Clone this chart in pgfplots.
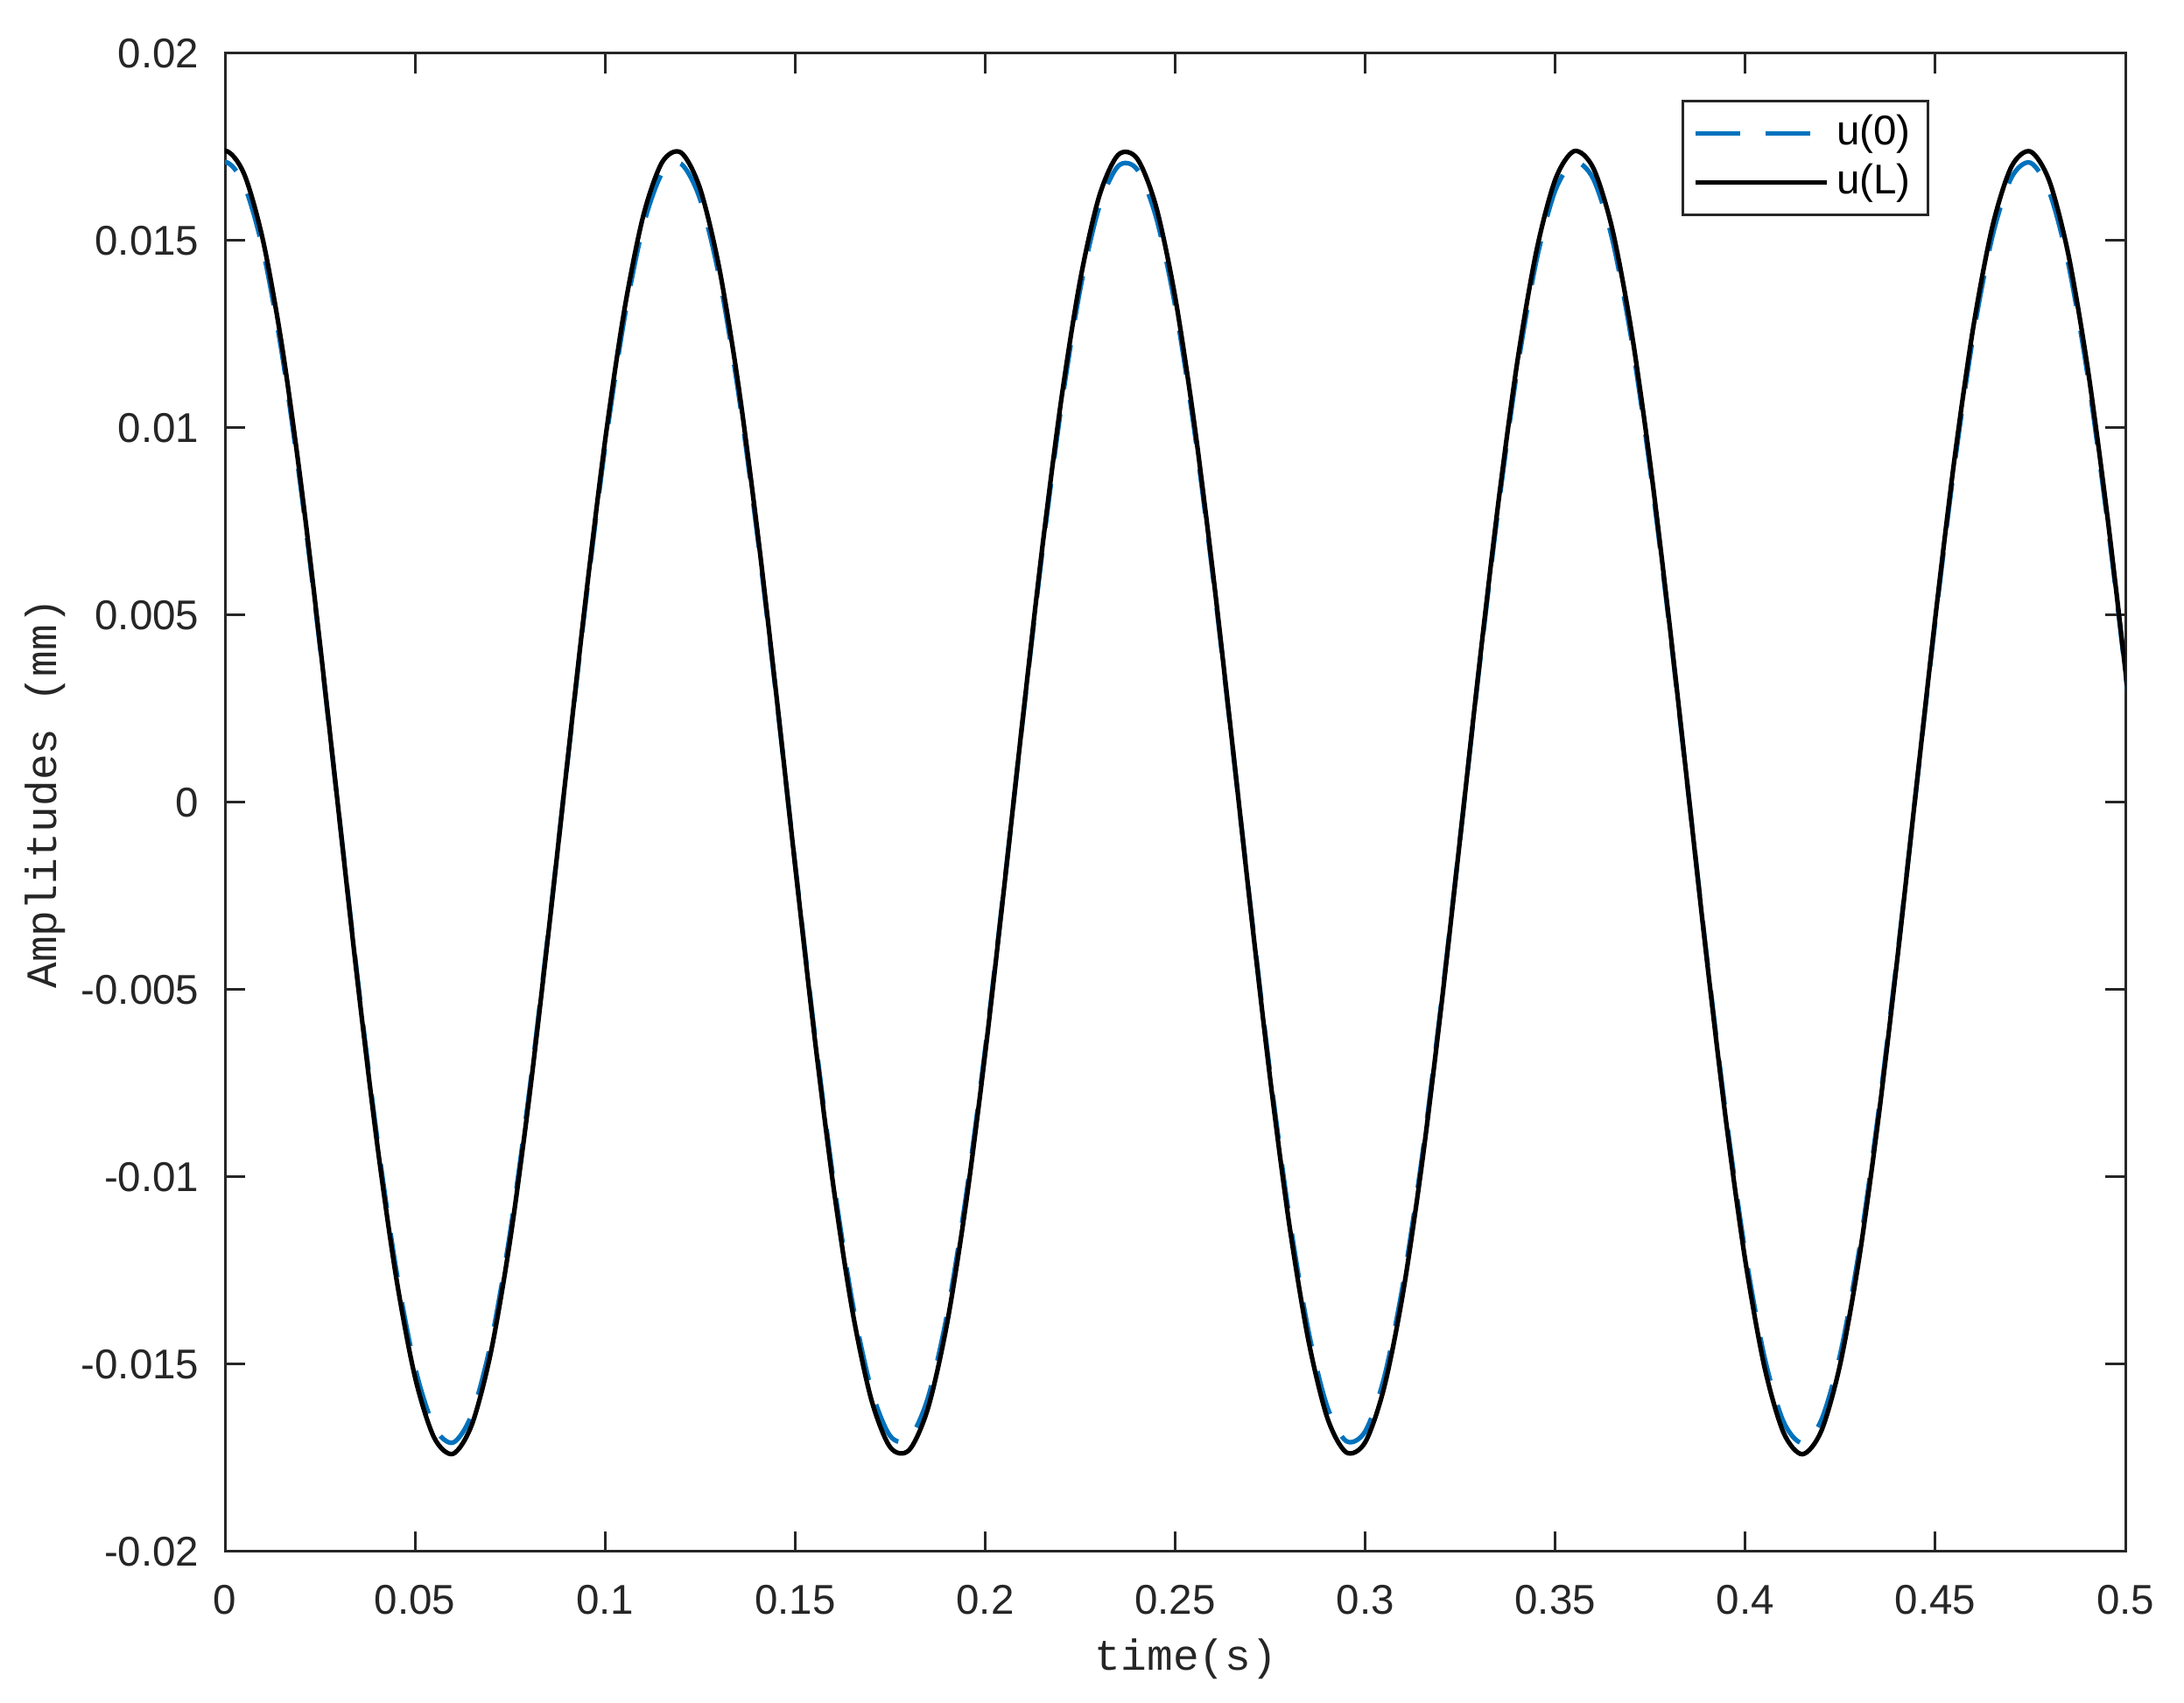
\documentclass[border=0pt]{standalone}
\usepackage{pgfplots}
\usepackage{pgfplotstable}
\pgfplotsset{compat=1.18}
\usepackage{fontspec}
\setmainfont{Liberation Sans}
\newfontfamily\labelfont{Liberation Mono}
\definecolor{mblue}{RGB}{0,114,189}
\definecolor{axgray}{RGB}{38,38,38}
\pgfplotstableread{
t u0 uL
-0.005 0.01650 0.01679
0.000 0.01710 0.01740
0.005 0.01650 0.01679
0.010 0.01475 0.01501
0.015 0.01198 0.01219
0.020 0.00836 0.00851
0.025 0.00416 0.00423
0.030 -0.00033 -0.00033
0.035 -0.00479 -0.00488
0.040 -0.00893 -0.00908
0.045 -0.01244 -0.01265
0.050 -0.01508 -0.01534
0.055 -0.01666 -0.01695
0.060 -0.01709 -0.01739
0.065 -0.01632 -0.01660
0.070 -0.01441 -0.01466
0.075 -0.01150 -0.01170
0.080 -0.00778 -0.00792
0.085 -0.00352 -0.00358
0.090 0.00098 0.00100
0.095 0.00542 0.00552
0.100 0.00948 0.00965
0.105 0.01287 0.01310
0.110 0.01537 0.01564
0.115 0.01680 0.01709
0.120 0.01705 0.01735
0.125 0.01611 0.01639
0.130 0.01405 0.01429
0.135 0.01100 0.01120
0.140 0.00719 0.00732
0.145 0.00288 0.00293
0.150 -0.00164 -0.00167
0.155 -0.00604 -0.00615
0.160 -0.01002 -0.01019
0.165 -0.01330 -0.01353
0.170 -0.01565 -0.01592
0.175 -0.01691 -0.01721
0.180 -0.01699 -0.01729
0.185 -0.01588 -0.01616
0.190 -0.01366 -0.01390
0.195 -0.01049 -0.01068
0.200 -0.00659 -0.00671
0.205 -0.00223 -0.00227
0.210 0.00229 0.00233
0.215 0.00665 0.00677
0.220 0.01054 0.01073
0.225 0.01370 0.01394
0.230 0.01590 0.01618
0.235 0.01699 0.01729
0.240 0.01690 0.01719
0.245 0.01562 0.01590
0.250 0.01326 0.01349
0.255 0.00997 0.01014
0.260 0.00598 0.00608
0.265 0.00157 0.00160
0.270 -0.00294 -0.00299
0.275 -0.00725 -0.00738
0.280 -0.01105 -0.01125
0.285 -0.01408 -0.01433
0.290 -0.01613 -0.01642
0.295 -0.01705 -0.01735
0.300 -0.01679 -0.01708
0.305 -0.01535 -0.01561
0.310 -0.01283 -0.01306
0.315 -0.00943 -0.00959
0.320 -0.00536 -0.00545
0.325 -0.00092 -0.00093
0.330 0.00359 0.00365
0.335 0.00784 0.00798
0.340 0.01155 0.01175
0.345 0.01445 0.01470
0.350 0.01634 0.01663
0.355 0.01709 0.01739
0.360 0.01665 0.01694
0.365 0.01504 0.01531
0.370 0.01239 0.01261
0.375 0.00887 0.00903
0.380 0.00473 0.00481
0.385 0.00026 0.00027
0.390 -0.00423 -0.00430
0.395 -0.00842 -0.00856
0.400 -0.01202 -0.01223
0.405 -0.01479 -0.01505
0.410 -0.01652 -0.01681
0.415 -0.01710 -0.01740
0.420 -0.01649 -0.01678
0.425 -0.01472 -0.01498
0.430 -0.01193 -0.01214
0.435 -0.00830 -0.00845
0.440 -0.00410 -0.00417
0.445 0.00039 0.00040
0.450 0.00486 0.00494
0.455 0.00898 0.00914
0.460 0.01248 0.01270
0.465 0.01511 0.01537
0.470 0.01668 0.01697
0.475 0.01708 0.01738
0.480 0.01630 0.01659
0.485 0.01438 0.01463
0.490 0.01145 0.01165
0.495 0.00772 0.00786
0.500 0.00346 0.00352
0.505 -0.00105 -0.00107
}\datatable
\begin{document}
\begin{tikzpicture}
\begin{axis}[
  scale only axis,
  width=434.2pt, height=342.4pt,
  xmin=0, xmax=0.5, ymin=-0.02, ymax=0.02,
  scaled x ticks=false, scaled y ticks=false,
  xtick={0,0.05,0.1,0.15,0.2,0.25,0.3,0.35,0.4,0.45,0.5},
  xticklabels={0,0.05,0.1,0.15,0.2,0.25,0.3,0.35,0.4,0.45,0.5},
  ytick={-0.02,-0.015,-0.01,-0.005,0,0.005,0.01,0.015,0.02},
  yticklabels={-0.02,-0.015,-0.01,-0.005,0,0.005,0.01,0.015,0.02},
  tick align=inside, xtick pos=both, ytick pos=both,
  major tick length=4.6pt,
  axis line style={axgray, line width=0.6pt},
  every tick/.style={axgray, line width=0.6pt},
  ticklabel style={font=\fontsize{9.5}{11}\selectfont, text=axgray},
  xticklabel style={yshift=-4.2pt},
  yticklabel style={xshift=-2.4pt},
  xlabel={time(s)},
  ylabel={Amplitudes (mm)},
  label style={font=\labelfont\fontsize{9.9}{11}\selectfont, text=axgray},
  xlabel style={at={(axis description cs:0.5057,-0.0718)}, anchor=center},
  ylabel style={at={(axis description cs:-0.0945,0.506)}, anchor=center},
  legend cell align=left,
  legend image code/.code={\draw[#1] (0pt,0pt) -- (30pt,0pt);},
  legend style={at={(axis description cs:0.8968,0.969)}, anchor=north east,
    draw=axgray, line width=0.6pt, fill=white,
    font=\fontsize{9.5}{11}\selectfont,
    inner xsep=2.4pt, inner ysep=1.8pt, row sep=0pt,
    nodes={inner xsep=1.6pt, inner ysep=1.4pt},
    /tikz/every odd column/.append style={column sep=0pt}},
]
\addplot[mblue, line width=1.05pt, dash pattern=on 10.2pt off 5.8pt, smooth] table[x=t, y=u0] {\datatable};
\addlegendentry{u(0)}
\addplot[black, line width=1.05pt, smooth] table[x=t, y=uL] {\datatable};
\addlegendentry{u(L)}
\end{axis}
\pgfresetboundingbox
\path[use as bounding box] ([shift={(-51.4pt,-34.6pt)}]current axis.south west) rectangle ([shift={(13.4pt,12.2pt)}]current axis.north east);
\end{tikzpicture}
\end{document}
